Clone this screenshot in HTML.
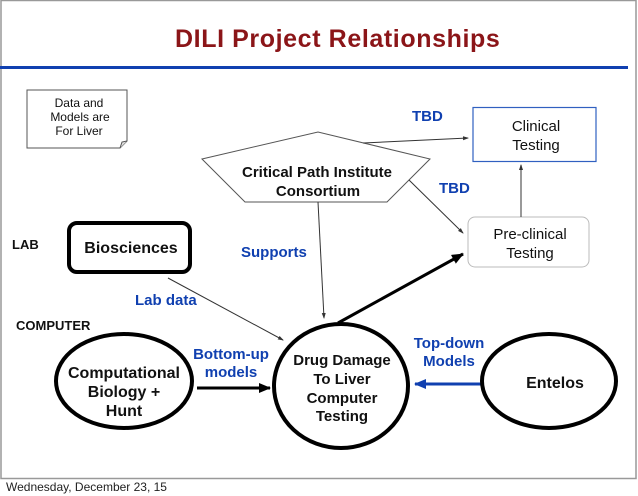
<!DOCTYPE html>
<html><head><style>
body{margin:0;background:#fff;width:638px;height:496px;overflow:hidden}
svg{display:block;font-family:"Liberation Sans",Arial,sans-serif}
text{font-family:"Liberation Sans",Arial,sans-serif}
</style></head><body>
<svg width="638" height="496" viewBox="0 0 638 496" font-family="Liberation Sans, Arial, sans-serif">
<defs>
<marker id="ahs" markerWidth="6" markerHeight="6" refX="5" refY="3" orient="auto" markerUnits="userSpaceOnUse"><path d="M0,1 L6,3 L0,5 Z" fill="#333"/></marker>
<marker id="ahb" markerWidth="12" markerHeight="10" refX="11" refY="5" orient="auto" markerUnits="userSpaceOnUse"><path d="M0,0 L12,5 L0,10 Z" fill="#000"/></marker>
<marker id="ahblue" markerWidth="12" markerHeight="10" refX="11" refY="5" orient="auto" markerUnits="userSpaceOnUse"><path d="M0,0 L12,5 L0,10 Z" fill="#1040b0"/></marker>
</defs>
<rect x="1" y="0.5" width="635" height="478" fill="#fff" stroke="#999" stroke-width="1.5"/>
<text x="175" y="47" font-size="25" font-weight="bold" fill="#8b1518" letter-spacing="0.6">DILI Project Relationships</text>
<rect x="0" y="66" width="628" height="3" fill="#1040b0"/>

<path d="M27,90 H127 V141 L120,148 H27 Z" fill="#fff" stroke="#555" stroke-width="1"/>
<path d="M120,148 L122,142 L127,141" fill="#ddd" stroke="#555" stroke-width="1"/>
<text font-size="12" fill="#111" text-anchor="middle"><tspan x="79" y="107">Data and</tspan><tspan x="80" y="121">Models are</tspan><tspan x="79" y="135">For Liver</tspan></text>

<polygon points="202,159 318,132 430,159 387,202 245,202" fill="#fff" stroke="#555" stroke-width="1"/>
<text font-size="15" font-weight="bold" fill="#111" text-anchor="middle"><tspan x="317" y="177">Critical Path Institute</tspan><tspan x="318" y="196">Consortium</tspan></text>

<rect x="473" y="107.5" width="123" height="54" fill="#fff" stroke="#3060c0" stroke-width="1.2"/>
<text font-size="15" fill="#111" text-anchor="middle"><tspan x="536" y="131">Clinical</tspan><tspan x="536" y="150">Testing</tspan></text>

<rect x="468" y="217" width="121" height="50" rx="7" fill="#fff" stroke="#bbb" stroke-width="1"/>
<text font-size="15" fill="#111" text-anchor="middle"><tspan x="530" y="239">Pre-clinical</tspan><tspan x="530" y="258">Testing</tspan></text>

<rect x="69" y="223" width="121" height="49" rx="8" fill="#fff" stroke="#000" stroke-width="4"/>
<text x="131" y="253" font-size="16" font-weight="bold" fill="#111" text-anchor="middle">Biosciences</text>

<line x1="363" y1="143" x2="468" y2="138" stroke="#333" stroke-width="1" marker-end="url(#ahs)"/>
<line x1="409" y1="180" x2="463" y2="233" stroke="#333" stroke-width="1" marker-end="url(#ahs)"/>
<line x1="521" y1="217" x2="521" y2="165" stroke="#555" stroke-width="1.2" marker-end="url(#ahs)"/>
<line x1="318" y1="202" x2="324" y2="318" stroke="#333" stroke-width="1" marker-end="url(#ahs)"/>
<line x1="168" y1="278" x2="283" y2="340" stroke="#333" stroke-width="1" marker-end="url(#ahs)"/>

<line x1="338" y1="323" x2="463" y2="254" stroke="#000" stroke-width="3" marker-end="url(#ahb)"/>
<line x1="197" y1="388" x2="270" y2="388" stroke="#000" stroke-width="3" marker-end="url(#ahb)"/>
<line x1="481" y1="384" x2="415" y2="384" stroke="#1040b0" stroke-width="3" marker-end="url(#ahblue)"/>

<ellipse cx="124" cy="381" rx="68" ry="47" fill="#fff" stroke="#000" stroke-width="4"/>
<text font-size="16" font-weight="bold" fill="#111" text-anchor="middle"><tspan x="124" y="378">Computational</tspan><tspan x="124" y="397">Biology +</tspan><tspan x="124" y="416">Hunt</tspan></text>
<ellipse cx="341" cy="386" rx="67" ry="62" fill="#fff" stroke="#000" stroke-width="4"/>
<text font-size="15" font-weight="bold" fill="#111" text-anchor="middle"><tspan x="342" y="365">Drug Damage</tspan><tspan x="342" y="384">To Liver</tspan><tspan x="342" y="403">Computer</tspan><tspan x="342" y="421">Testing</tspan></text>
<ellipse cx="549" cy="381" rx="67" ry="47" fill="#fff" stroke="#000" stroke-width="4"/>
<text x="555" y="388" font-size="16" font-weight="bold" fill="#111" text-anchor="middle">Entelos</text>

<text x="12" y="249" font-size="13" font-weight="bold" fill="#111">LAB</text>
<text x="16" y="330" font-size="13" font-weight="bold" fill="#111">COMPUTER</text>
<g font-size="15" font-weight="bold" fill="#1040b0">
<text x="135" y="305">Lab data</text>
<text x="241" y="257">Supports</text>
<text x="412" y="121">TBD</text>
<text x="439" y="193">TBD</text>
<text text-anchor="middle"><tspan x="231" y="359">Bottom-up</tspan><tspan x="231" y="377">models</tspan></text>
<text text-anchor="middle"><tspan x="449" y="348">Top-down</tspan><tspan x="449" y="366">Models</tspan></text>
</g>
<text x="6" y="491" font-size="12" fill="#222">Wednesday, December 23, 15</text>
</svg>
</body></html>
